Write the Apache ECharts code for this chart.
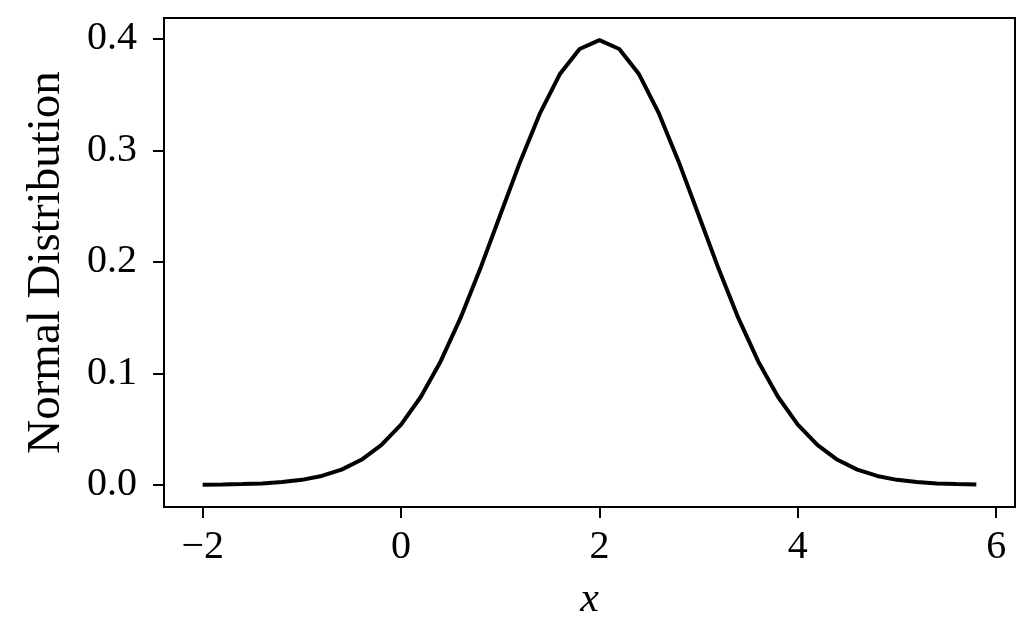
<!DOCTYPE html>
<html>
<head>
<meta charset="utf-8">
<script src="https://cdn.jsdelivr.net/npm/echarts@6/dist/echarts.min.js"></script>
<style>
html,body{margin:0;padding:0;background:#fff;}
#chart{width:1024px;height:632px;}
</style>
</head>
<body>
<div id="chart"></div>
<script>
const xValues = [-2.0,-1.8,-1.6,-1.4,-1.2,-1.0,-0.8,-0.6,-0.4,-0.2,0.0,0.2,0.4,0.6,0.8,1.0,1.2,1.4,1.6,1.8,2.0,2.2,2.4,2.6,2.8,3.0,3.2,3.4,3.6,3.8,4.0,4.2,4.4,4.6,4.8,5.0,5.2,5.4,5.6,5.8];
const yValues = [0.0001,0.0003,0.0006,0.0012,0.0024,0.0044,0.0079,0.0136,0.0224,0.0355,0.0540,0.0790,0.1109,0.1497,0.1942,0.2420,0.2897,0.3332,0.3683,0.3910,0.3989,0.3910,0.3683,0.3332,0.2897,0.2420,0.1942,0.1497,0.1109,0.0790,0.0540,0.0355,0.0224,0.0136,0.0079,0.0044,0.0024,0.0012,0.0006,0.0003];
const xTicks = [-2,0,2,4,6];
const yTicks = [0,0.1,0.2,0.3,0.4];
const xLabel = 'x';
const yLabel = 'Normal Distribution';

const FONT = '"Liberation Serif", "DejaVu Serif", serif';
const chart = echarts.init(document.getElementById('chart'), null, {renderer:'canvas'});
chart.setOption({
  animation:false,
  backgroundColor:'#fff',
  grid:{left:164,right:9,top:18,bottom:125,show:true,borderColor:'#000',borderWidth:2,backgroundColor:'transparent'},
  xAxis:{
    type:'value', min:-2.39, max:6.19,
    name:xLabel, nameLocation:'middle', nameGap:72,
    nameTextStyle:{fontFamily:FONT,fontStyle:'italic',fontSize:42,color:'#000'},
    axisLine:{show:false,onZero:false},
    splitLine:{show:false},
    axisTick:{show:true,inside:false,length:11,lineStyle:{color:'#000',width:2},customValues:xTicks},
    axisLabel:{show:true,margin:20,fontFamily:FONT,fontSize:40,color:'#000',customValues:xTicks,
      formatter:v=>(v<0?'\u2212'+Math.abs(v):String(v))}
  },
  yAxis:{
    type:'value', min:-0.01995, max:0.4188,
    name:yLabel, nameLocation:'middle', nameGap:94, nameRotate:90,
    nameTextStyle:{fontFamily:FONT,fontSize:47,color:'#000'},
    axisLine:{show:false,onZero:false},
    splitLine:{show:false},
    axisTick:{show:true,inside:false,length:11,lineStyle:{color:'#000',width:2},customValues:yTicks},
    axisLabel:{show:true,margin:27,fontFamily:FONT,fontSize:40,color:'#000',customValues:yTicks,
      formatter:v=>v.toFixed(1)}
  },
  series:[{
    type:'line',
    data:xValues.map((x,i)=>[x,yValues[i]]),
    showSymbol:false,
    lineStyle:{color:'#000',width:4},
    smooth:false
  }]
});
</script>
</body>
</html>
